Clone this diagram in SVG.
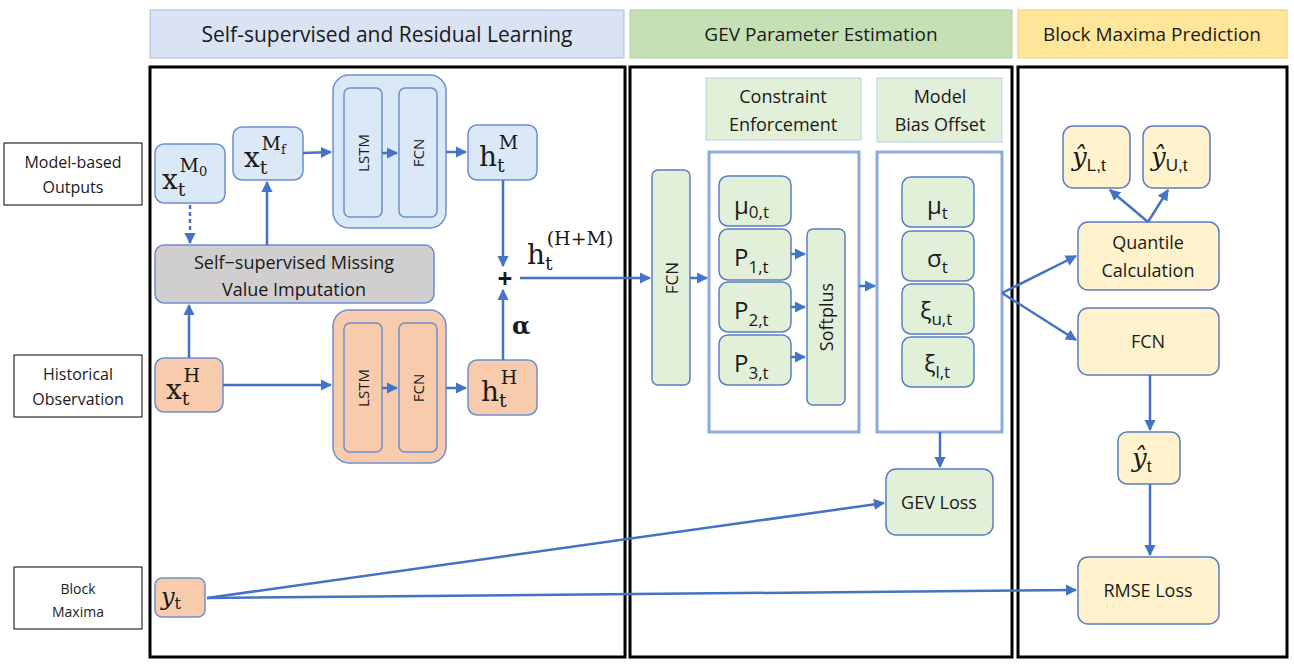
<svg xmlns="http://www.w3.org/2000/svg" width="1294" height="665" viewBox="0 0 1294 665">
<defs>
<marker id="ah" viewBox="0 0 10 10" refX="9" refY="5" markerWidth="4.5" markerHeight="4.5" orient="auto"><path d="M0,0L10,5L0,10z" fill="#4472c4"/></marker>
<style>
text{font-family:"Open Sans","Liberation Sans",sans-serif;fill:#1a1a1a}
.m{font-family:"DejaVu Serif","Liberation Serif",serif}
.blue{fill:#dae8f7;stroke:#6d8fcf;stroke-width:1.5}
.or{fill:#f8cbad;stroke:#6d8fcf;stroke-width:1.5}
.gr{fill:#e2f0d9;stroke:#5a7fbf;stroke-width:1.5}
.ye{fill:#fff2cc;stroke:#5a7fbf;stroke-width:1.5}
.panel{fill:none;stroke:#000;stroke-width:3}
.lab{fill:#fff;stroke:#000;stroke-width:1}
.c{stroke:#4472c4;stroke-width:2.5;fill:none;marker-end:url(#ah)}
.outl{fill:none;stroke:#8eaadb;stroke-width:3}
</style>
</defs>
<rect width="1294" height="665" fill="#fff"/>
<g id="headers">
<rect x="150" y="10" width="474" height="48" fill="#dae3f3" stroke="#a9bde0"/>
<text x="387" y="42" font-size="21" text-anchor="middle">Self-supervised and Residual Learning</text>
<rect x="630" y="10" width="382" height="48" fill="#c5e0b4" stroke="#b0d0a0"/>
<text x="821" y="41" font-size="19" text-anchor="middle">GEV Parameter Estimation</text>
<rect x="1018" y="10" width="269" height="48" fill="#ffe699" stroke="#e8d080"/>
<text x="1152" y="41" font-size="19" text-anchor="middle">Block Maxima Prediction</text>
</g>
<g id="panels">
<rect class="panel" x="150" y="67" width="475" height="590"/>
<rect class="panel" x="630" y="67" width="382" height="590"/>
<rect class="panel" x="1018" y="67" width="269" height="590"/>
</g>
<g id="labels">
<rect class="lab" x="4" y="143" width="138" height="62"/>
<text x="73" y="168" font-size="16" text-anchor="middle">Model-based</text>
<text x="73" y="193" font-size="16" text-anchor="middle">Outputs</text>
<rect class="lab" x="14" y="355" width="128" height="62"/>
<text x="78" y="380" font-size="16" text-anchor="middle">Historical</text>
<text x="78" y="405" font-size="16" text-anchor="middle">Observation</text>
<rect class="lab" x="14" y="567" width="128" height="62"/>
<text x="78" y="594" font-size="14" text-anchor="middle">Block</text>
<text x="78" y="617" font-size="14" text-anchor="middle">Maxima</text>
</g>
<g id="xM0"><rect class="blue" x="155" y="144" width="70" height="59" rx="9"/>
<text class="m" x="162" y="189" font-size="28">x<tspan dy="7" font-size="19">t</tspan><tspan dx="-6" dy="-24" font-size="19">M</tspan><tspan dy="4" font-size="13">0</tspan></text></g>
<g id="xMf"><rect class="blue" x="233" y="127" width="70" height="53" rx="9"/>
<text class="m" x="244" y="167" font-size="28">x<tspan dy="7" font-size="19">t</tspan><tspan dx="-6" dy="-24" font-size="19">M</tspan><tspan dy="4" font-size="13">f</tspan></text></g>
<g id="lstmM"><rect class="blue" x="333" y="75" width="113" height="153" rx="16"/>
<rect class="blue" x="344" y="88" width="38" height="129" rx="6"/>
<rect class="blue" x="399" y="88" width="38" height="129" rx="6"/>
<text x="369" y="153" font-size="15" text-anchor="middle" transform="rotate(-90 369 153)">LSTM</text>
<text x="424" y="153" font-size="15" text-anchor="middle" transform="rotate(-90 424 153)">FCN</text></g>
<g id="hM"><rect class="blue" x="468" y="125" width="69" height="55" rx="9"/>
<text class="m" x="479" y="166" font-size="28">h<tspan dy="6" font-size="19">t</tspan><tspan dx="-6" dy="-23" font-size="19">M</tspan></text></g>
<g id="imput"><rect x="155" y="245" width="279" height="58" rx="9" fill="#d0cece" stroke="#6d8fcf" stroke-width="1.5"/>
<text x="294" y="269" font-size="18" text-anchor="middle">Self−supervised Missing</text>
<text x="294" y="296" font-size="18" text-anchor="middle">Value Imputation</text></g>
<g id="xH"><rect class="or" x="155" y="358" width="68" height="54" rx="9"/>
<text class="m" x="166" y="399" font-size="28">x<tspan dy="6" font-size="19">t</tspan><tspan dx="-6" dy="-23" font-size="19">H</tspan></text></g>
<g id="lstmH"><rect class="or" x="333" y="310" width="113" height="153" rx="16"/>
<rect class="or" x="344" y="323" width="38" height="129" rx="6"/>
<rect class="or" x="399" y="323" width="38" height="129" rx="6"/>
<text x="369" y="388" font-size="15" text-anchor="middle" transform="rotate(-90 369 388)">LSTM</text>
<text x="424" y="388" font-size="15" text-anchor="middle" transform="rotate(-90 424 388)">FCN</text></g>
<g id="hH"><rect class="or" x="468" y="360" width="69" height="55" rx="9"/>
<text class="m" x="481" y="401" font-size="28">h<tspan dy="6" font-size="19">t</tspan><tspan dx="-6" dy="-23" font-size="19">H</tspan></text></g>
<g id="sum">
<text x="505" y="288" font-size="26" font-weight="bold" text-anchor="middle">+</text>
<text class="m" x="512" y="334" font-size="24" font-weight="bold">α</text>
<text class="m" x="527" y="264" font-size="28">h<tspan dy="6" font-size="19">t</tspan><tspan dx="-6" dy="-25" font-size="19">(H+M)</tspan></text>
</g>
<g id="yt"><rect class="or" x="155" y="578" width="50" height="39" rx="7"/>
<text class="m" x="161" y="605" font-size="24" font-style="italic">y<tspan dy="4" font-size="16" font-style="normal">t</tspan></text></g>
<g id="ce"><rect x="706" y="78" width="155" height="62" fill="#e2f0d9" stroke="#b5d0e8"/>
<text x="783" y="103" font-size="18" text-anchor="middle">Constraint</text>
<text x="783" y="131" font-size="18" text-anchor="middle">Enforcement</text>
<rect class="outl" x="709" y="152" width="150" height="280"/></g>
<g id="mbo"><rect x="877" y="78" width="125" height="64" fill="#e2f0d9" stroke="#b5d0e8"/>
<text x="940" y="103" font-size="18" text-anchor="middle">Model</text>
<text x="940" y="131" font-size="18" text-anchor="middle">Bias Offset</text>
<rect class="outl" x="877" y="152" width="125" height="280"/></g>
<g id="fcn1"><rect class="gr" x="652" y="170" width="38" height="215" rx="6"/>
<text x="678" y="278" font-size="17" text-anchor="middle" transform="rotate(-90 678 278)">FCN</text></g>
<g id="params">
<rect class="gr" x="719" y="176" width="72" height="50" rx="9"/>
<text x="734" y="214" font-size="24">μ<tspan dy="4" font-size="17">0,t</tspan></text>
<rect class="gr" x="719" y="229" width="72" height="51" rx="9"/>
<text x="734" y="266" font-size="24">P<tspan dy="7" font-size="17">1,t</tspan></text>
<rect class="gr" x="719" y="282" width="72" height="50" rx="9"/>
<text x="734" y="319" font-size="24">P<tspan dy="7" font-size="17">2,t</tspan></text>
<rect class="gr" x="719" y="335" width="72" height="50" rx="9"/>
<text x="734" y="372" font-size="24">P<tspan dy="7" font-size="17">3,t</tspan></text>
</g>
<g id="softplus"><rect class="gr" x="807" y="229" width="38" height="176" rx="6"/>
<text x="833" y="317" font-size="18" text-anchor="middle" transform="rotate(-90 833 317)">Softplus</text></g>
<g id="outs">
<rect class="gr" x="902" y="177" width="72" height="50" rx="9"/>
<text x="927" y="214" font-size="24">μ<tspan dy="5" font-size="17">t</tspan></text>
<rect class="gr" x="902" y="231" width="72" height="50" rx="9"/>
<text x="927" y="267" font-size="24">σ<tspan dy="6" font-size="17">t</tspan></text>
<rect class="gr" x="902" y="284" width="72" height="50" rx="9"/>
<text x="920" y="319" font-size="24">ξ<tspan dy="6" font-size="17">u,t</tspan></text>
<rect class="gr" x="902" y="337" width="72" height="50" rx="9"/>
<text x="924" y="372" font-size="24">ξ<tspan dy="6" font-size="17">l,t</tspan></text>
</g>
<g id="gevloss"><rect class="gr" x="886" y="469" width="107" height="66" rx="10"/>
<text x="939" y="509" font-size="18" text-anchor="middle">GEV Loss</text></g>
<g id="yL"><rect class="ye" x="1063" y="126" width="67" height="62" rx="10"/>
<text class="m" x="1072" y="166" font-size="26" font-style="italic">ŷ<tspan dy="5" font-size="17" font-style="normal" font-family="Liberation Sans">L,t</tspan></text></g>
<g id="yU"><rect class="ye" x="1143" y="126" width="67" height="62" rx="10"/>
<text class="m" x="1151" y="166" font-size="26" font-style="italic">ŷ<tspan dy="5" font-size="17" font-style="normal" font-family="Liberation Sans">U,t</tspan></text></g>
<g id="quant"><rect class="ye" x="1078" y="222" width="141" height="68" rx="10"/>
<text x="1148" y="249" font-size="18" text-anchor="middle">Quantile</text>
<text x="1148" y="277" font-size="18" text-anchor="middle">Calculation</text></g>
<g id="fcn2"><rect class="ye" x="1078" y="308" width="141" height="67" rx="10"/>
<text x="1148" y="348" font-size="18" text-anchor="middle">FCN</text></g>
<g id="yhat"><rect class="ye" x="1118" y="432" width="62" height="52" rx="9"/>
<text class="m" x="1132" y="467" font-size="26" font-style="italic">ŷ<tspan dy="5" font-size="17" font-style="normal" font-family="Liberation Sans">t</tspan></text></g>
<g id="rmse"><rect class="ye" x="1078" y="557" width="141" height="67" rx="10"/>
<text x="1148" y="597" font-size="18" text-anchor="middle">RMSE Loss</text></g>
<g id="connectors">
<path d="M190,205V243" class="c" stroke-dasharray="4,3"/>
<path d="M267,245V182" class="c"/>
<path d="M189,358V305" class="c"/>
<path d="M303,153L331,152" class="c"/>
<path d="M382,153H397" class="c"/>
<path d="M446,152H466" class="c"/>
<path d="M223,385H331" class="c"/>
<path d="M382,388H397" class="c"/>
<path d="M446,388H466" class="c"/>
<path d="M503,180V266" class="c"/>
<path d="M503,360V290" class="c"/>
<path d="M520,278H650" class="c"/>
<path d="M690,278H707" class="c"/>
<path d="M791,254H805" class="c"/>
<path d="M791,307H805" class="c"/>
<path d="M791,357H805" class="c"/>
<path d="M859,286H875" class="c"/>
<path d="M940,432V467" class="c"/>
<path d="M1002,293L1076,256" class="c"/>
<path d="M1002,293L1076,340" class="c"/>
<path d="M1148,222L1110,190" class="c"/>
<path d="M1148,222L1168,190" class="c"/>
<path d="M1150,375V430" class="c"/>
<path d="M1150,484V555" class="c"/>
<path d="M207,598L884,503" class="c"/>
<path d="M207,598L1076,590" class="c"/>
</g>
</svg>
